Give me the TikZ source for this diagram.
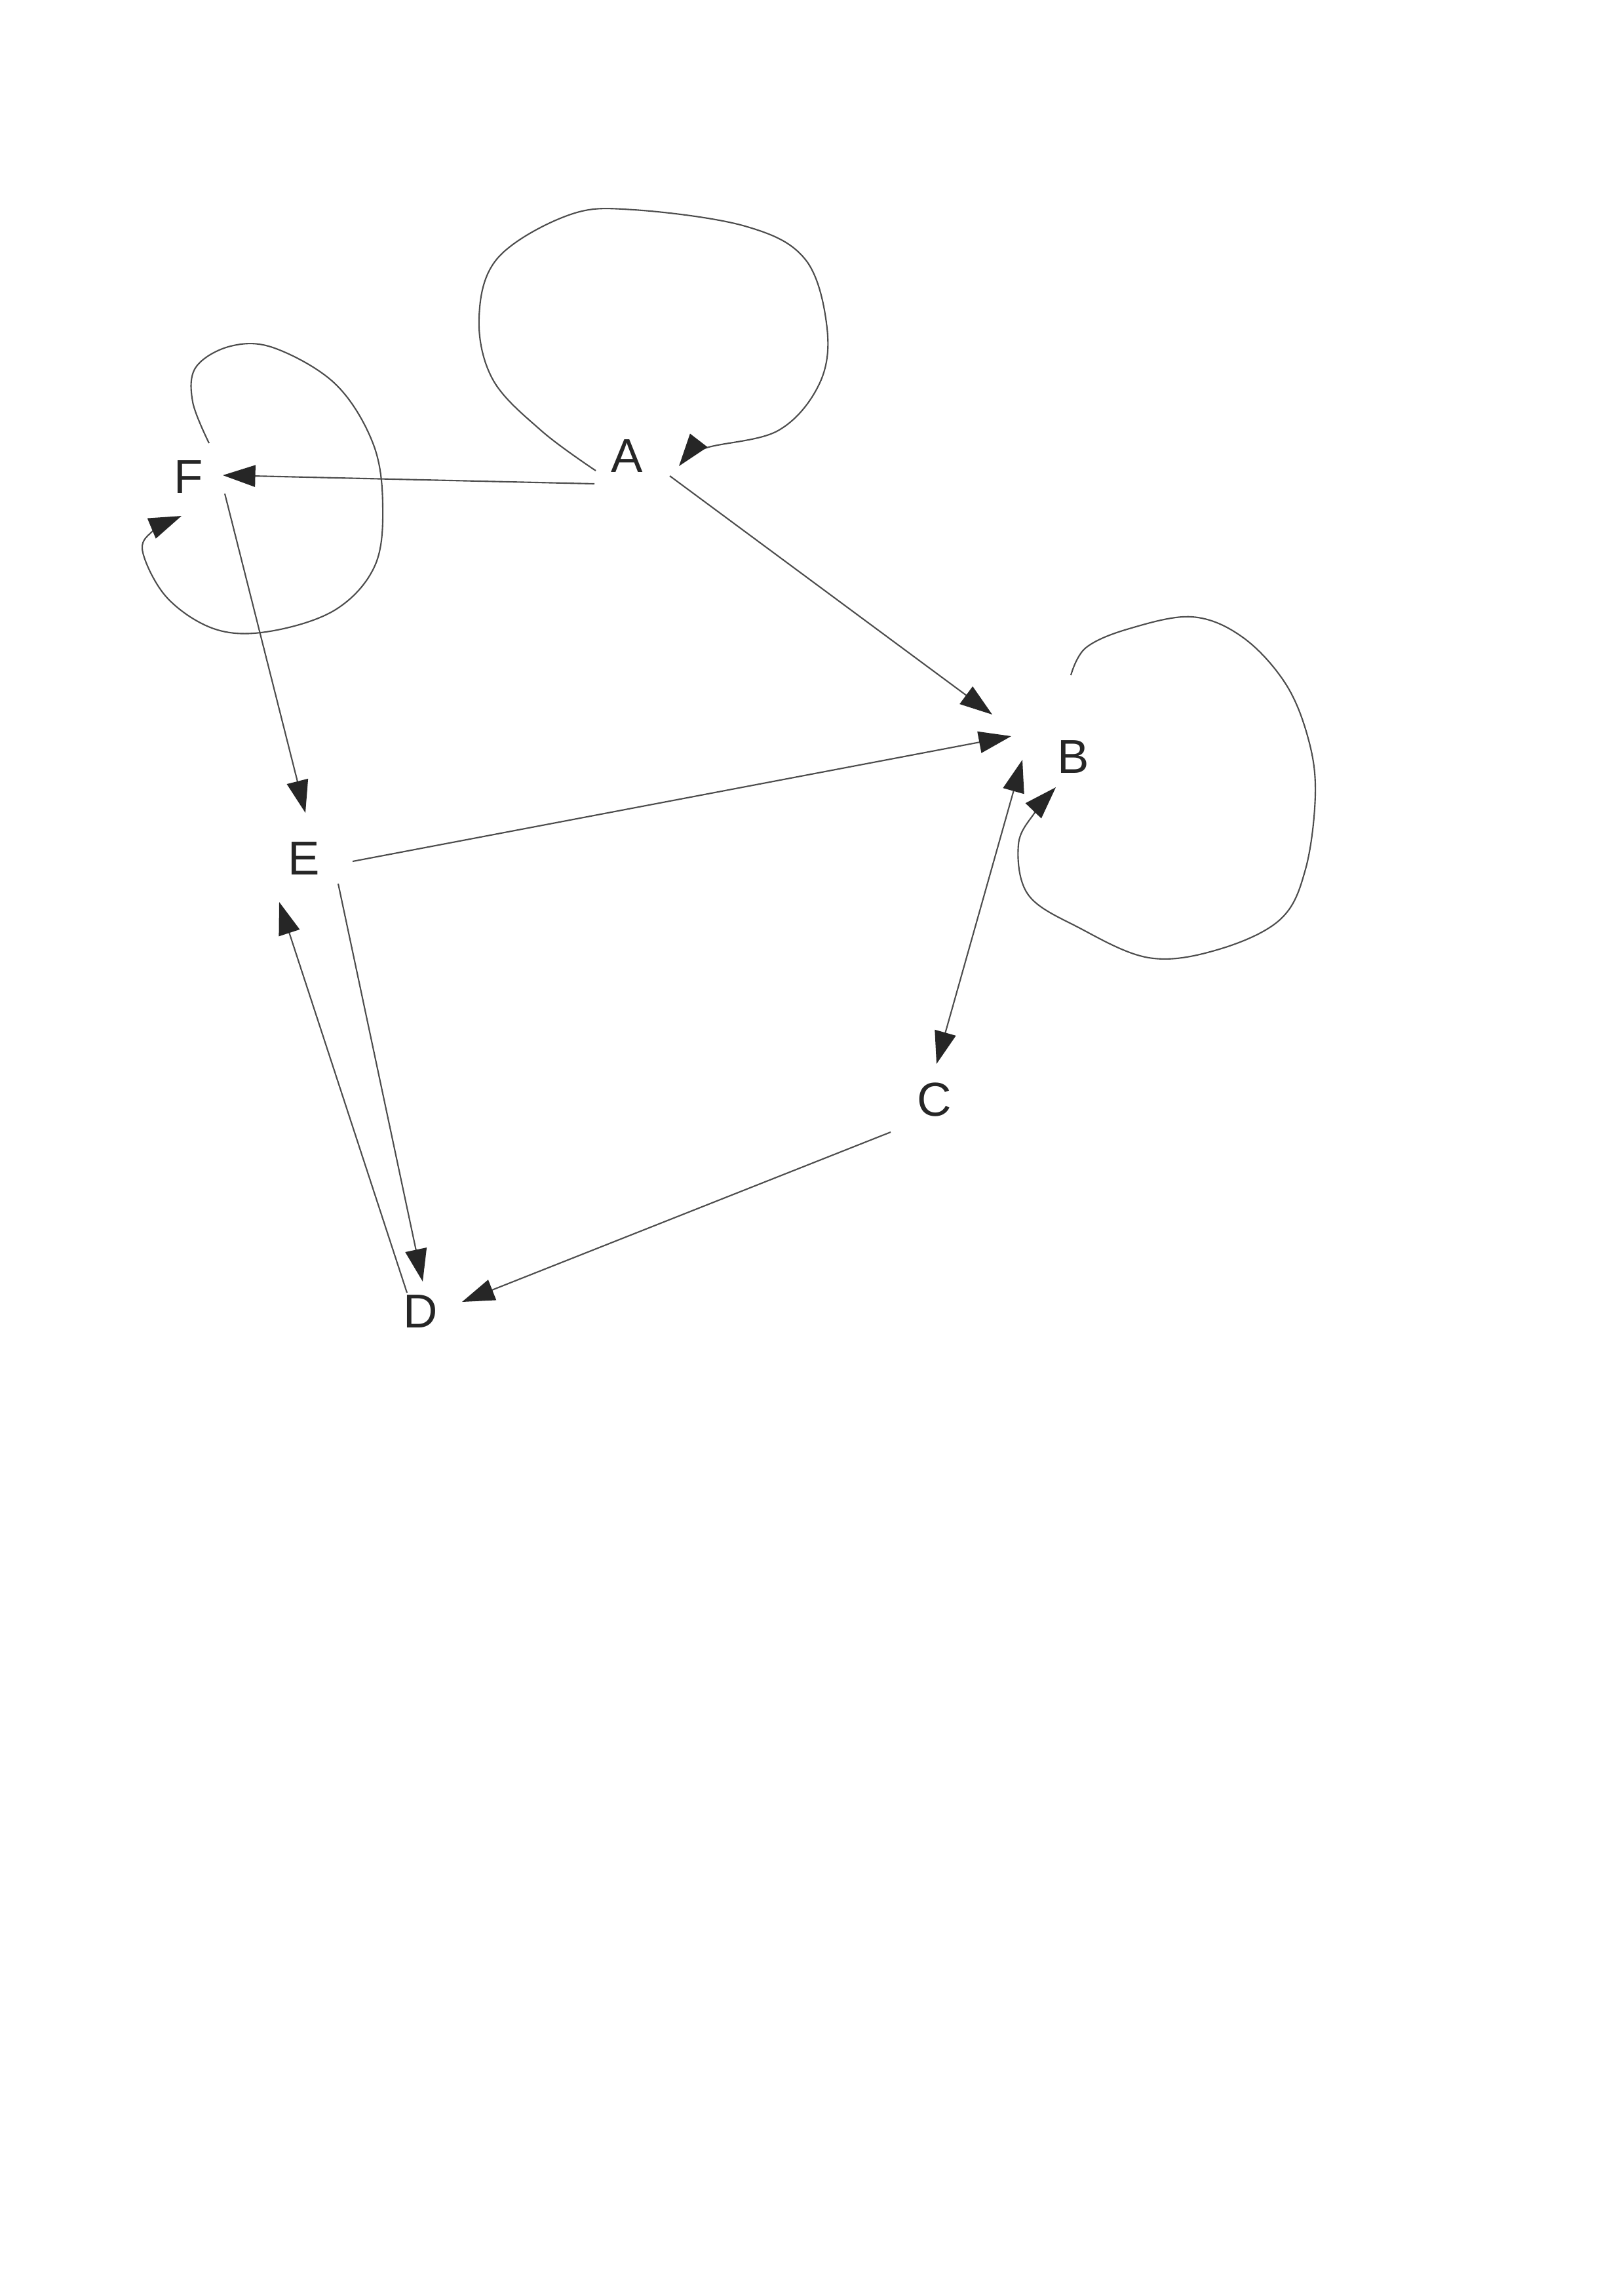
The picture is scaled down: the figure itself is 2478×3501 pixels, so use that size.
\documentclass[tikz,border=0pt]{standalone}
\usepackage{fontspec}
\setmainfont{Liberation Sans}
\usetikzlibrary{arrows.meta,calc}
\tikzset{
  vertex/.style={text=black!85,font=\fontsize{17.5}{21}\selectfont,inner sep=0pt},
  edge/.style={draw=black!70,line width=0.18mm,
    -{Triangle[length=4.2mm,width=2.8mm,color=black!85]}},
  twoway/.style={edge,{Triangle[length=4.2mm,width=2.8mm,color=black!85]}-{Triangle[length=4.2mm,width=2.8mm,color=black!85]}},
}
\def\selfloop{plot[smooth,tension=0.6] coordinates}

\begin{document}
\begin{tikzpicture}[x=0.08475mm,y=-0.08475mm]
\useasboundingbox (0,0) rectangle (2478,3501);
\node[vertex] (A) at (957,696) {A};
\node[vertex] (F) at (288,728) {F};
\node[vertex] (B) at (1638,1155) {B};
\node[vertex] (E) at (464,1310) {E};
\node[vertex] (C) at (1426,1677) {C};
\node[vertex] (D) at (642,2000) {D};
% edges
\draw[edge] ($(A)+(-50,42)$) -- ($(F)+(52,-3)$);
\draw[edge] ($(A)+(65,30)$) -- ($(B)+(-124,-65)$);
\draw[edge] ($(E)+(74,4)$) -- ($(B)+(-95,-32)$);
\draw[twoway] ($(B)+(-78,4)$) -- ($(C)+(3,-54)$);
\draw[edge] ($(C)+(-67,50)$) -- ($(D)+(63,-14)$);
\draw[edge] ($(F)+(55,25)$) -- ($(E)+(2,-70)$);
\draw[edge] ($(E)+(52,38)$) -- ($(D)+(3,-45)$);
\draw[edge] ($(D)+(-21,-28)$) -- ($(E)+(-38,66)$);
% self loops
\draw[edge,shift={(A)}] \selfloop {(-48,22) (-131,-39) (-205,-117) (-226,-212)
  (-197,-303) (-89,-368) (10,-376) (180,-351) (272,-300) (305,-195) (293,-110)
  (230,-39) (118,-12) (79,15)};
\draw[edge,shift={(F)}] \selfloop {(31,-52) (6,-115) (11,-168) (64,-200) (131,-197)
  (224,-142) (281,-52) (296,42) (284,135) (224,202) (124,235) (41,232) (-32,185)
  (-70,115) (-56,83) (-11,59)};
\draw[edge,shift={(B)}] \selfloop {(-4,-125) (19,-167) (85,-196) (181,-214) (258,-183)
  (323,-113) (358,-29) (369,56) (354,171) (315,248) (219,294) (115,306) (8,260)
  (-69,210) (-84,133) (-58,83) (-27,46)};
\end{tikzpicture}
\end{document}
